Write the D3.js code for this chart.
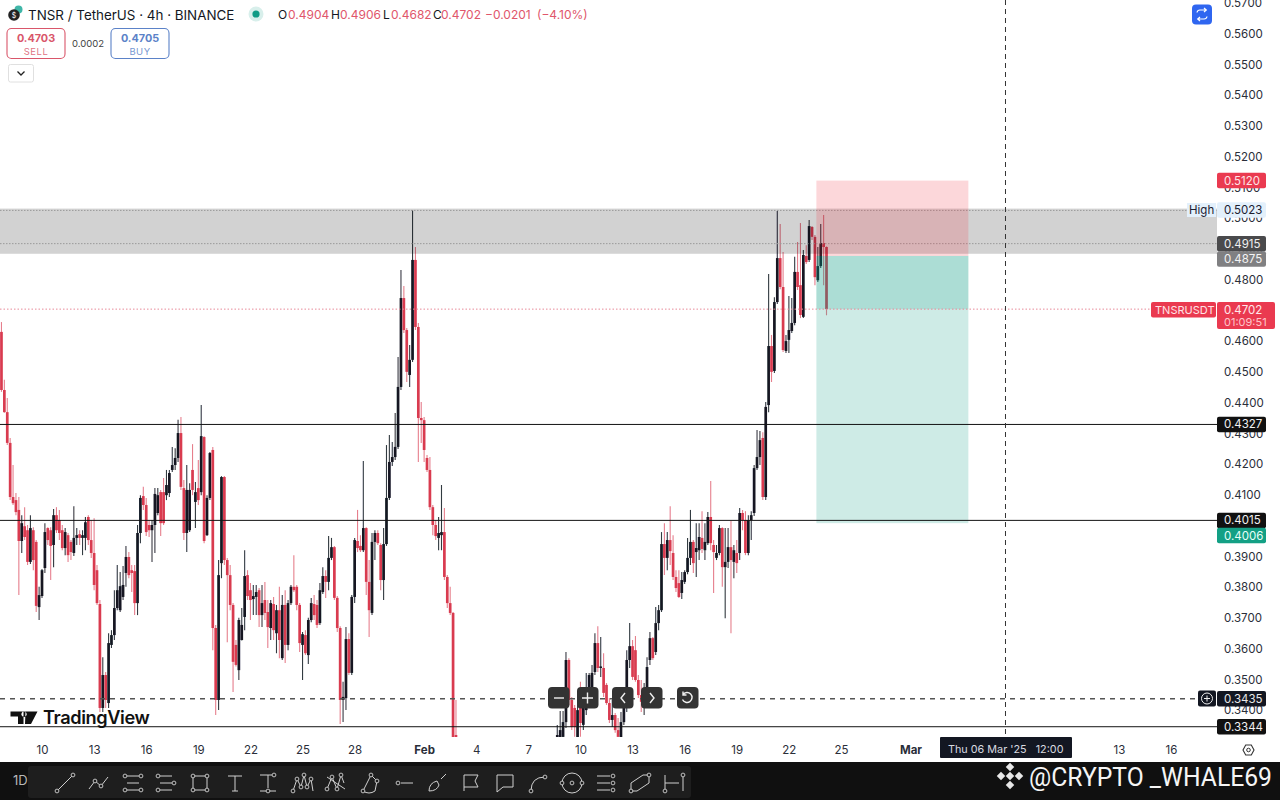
<!DOCTYPE html>
<html><head><meta charset="utf-8">
<script src="https://cdn.jsdelivr.net/npm/d3@7/dist/d3.min.js"></script>
<style>
html,body{margin:0;padding:0;background:#fff;overflow:hidden}
svg{display:block}
text{font-family:Inter,Roboto,"Noto Sans",sans-serif}
</style></head><body>
<svg id="c" width="1280" height="800"></svg>
<script>
// Prices in ticks of 0.0001. Each row: high, open, close, low (4h candles)
const priceUnit = 0.0001;
const leftStart = new Date(Date.UTC(2025,0,7,12)); // first visible candle
const leftCandles = [
[4849,4829,4634,4618],[4660,4628,4439,4433],[4472,4439,4367,4365],[4413,4367,4267,4260],[4283,4267,4091,4081],
[4195,4091,4071,4065],[4104,4081,4042,4032],[4091,4049,3948,3772],[4032,3948,4006,3909],[4058,3996,3961,3951],
[4000,3983,3880,3870],[4032,3880,3990,3873],[3993,3983,3886,3853],[3951,3945,3737,3717],[3799,3733,3772,3691],
[3857,3769,3853,3763],[4006,3860,3977,3844],[3993,3990,3951,3935],[3993,3983,3932,3821],[4052,3935,4032,3863],
[4058,4032,3983,3974],[4049,4016,3974,3951],[4000,3983,3925,3918],[3990,3925,3977,3902],[3974,3967,3902,3880],
[3951,3945,3912,3886],[4061,3909,3958,3899],[3990,3958,3967,3935],[3983,3970,3958,3935],[3983,3958,3967,3902],
[4026,3958,4009,3918],[4032,4026,3951,3935],[4016,3951,3909,3893],[4022,3909,3805,3788],[3870,3853,3746,3740],
[3756,3743,3405,3392],[3570,3405,3512,3392],[3522,3512,3431,3405],[3648,3421,3616,3405],[3658,3610,3642,3600],
[3788,3642,3730,3626],[3870,3730,3788,3723],[3847,3723,3801,3717],[3867,3766,3805,3756],[3932,3844,3896,3799],
[3912,3896,3837,3827],[3870,3853,3844,3782],[3870,3850,3746,3707],[4000,3746,3974,3707],[4097,3974,4088,3941],
[4124,4094,4065,4049],[4088,4065,3977,3964],[4016,4000,3983,3961],[4016,3983,4000,3880],[4120,4000,4101,3909],
[4120,4039,4097,4032],[4114,4107,4006,3964],[4153,4107,4006,4000],[4179,4097,4130,4081],[4179,4104,4169,4091],
[4254,4179,4195,4172],[4250,4195,4218,4179],[4342,4218,4299,4205],[4351,4299,4124,4114],[4146,4120,3974,3951],
[4195,3974,4114,3912],[4136,3983,4114,3977],[4263,4179,4114,4097],[4140,4075,4107,3990],[4211,4120,4081,4065],
[4390,4107,4289,4097],[4289,4286,3948,3941],[4097,3967,4088,3964],[4237,4088,4234,4081],[4254,4244,3665,3593],
[3675,3665,3431,3382],[3886,3431,3837,3398],[4159,3876,4156,3827],[4159,4156,3886,3870],[3893,3886,3837,3619],
[3870,3837,3740,3723],[3746,3740,3555,3457],[3626,3610,3545,3540],[3698,3528,3691,3496],[3730,3626,3675,3624],
[3918,3701,3834,3658],[3853,3837,3769,3756],[3811,3788,3756,3691],[3805,3759,3769,3707],[3805,3766,3782,3707],
[3795,3788,3707,3668],[3805,3707,3746,3668],[3815,3756,3714,3691],[3756,3717,3668,3600],[3756,3665,3746,3626],
[3766,3743,3658,3626],[3740,3648,3723,3583],[3799,3723,3626,3567],[3772,3567,3740,3561],[3788,3740,3610,3551],
[3756,3610,3746,3593],[3805,3746,3799,3740],[3902,3799,3788,3782],[3805,3799,3740,3723],[3746,3740,3616,3587],
[3652,3610,3645,3496],[3658,3642,3583,3577],[3698,3577,3691,3548],[3763,3691,3746,3684],[3772,3743,3707,3691],
[3756,3740,3675,3665],[3811,3681,3788,3675],[3863,3782,3834,3776],[3853,3834,3815,3763],[3964,3815,3893,3788],
[3958,3893,3928,3886],[3932,3928,3763,3756],[3769,3763,3665,3652],[3671,3665,3431,3353],[3490,3431,3441,3359],
[3668,3437,3629,3398],[3648,3629,3519,3512],[3772,3519,3766,3512],[3958,3766,3951,3746],[4049,3948,3925,3912],
[3967,3932,3918,3912],[4208,3918,3990,3912],[3993,3990,3815,3772],[3886,3815,3723,3636],[3974,3714,3945,3707],
[3983,3945,3974,3886],[3983,3974,3941,3935],[3941,3935,3821,3788],[3990,3821,3938,3756],[4260,3938,4088,3932],
[4293,4088,4205,4081],[4270,4205,4221,4192],[4364,4221,4254,4211],[4546,4254,4449,4247],[4829,4449,4738,4439],
[4777,4738,4634,4624],[4641,4634,4498,4465],[4585,4488,4537,4449],[5023,4537,4862,4530],[4904,4862,4644,4634],
[4657,4644,4348,4205],[4400,4348,4341,4267],[4351,4341,4244,4205],[4228,4218,4179,4172],[4221,4179,4058,4049],
[4065,4058,4000,3967],[4016,4000,3964,3951],[4026,3958,3974,3918],[4130,3967,3977,3918],[4055,3977,3831,3821],
[3837,3831,3746,3730],[3799,3746,3714,3707],[3717,3714,3301,3285],[3431,3317,3285,3236]
];
const rightStart = new Date(Date.UTC(2025,1,8,16));
const rightCandles = [
[3350,3301,3317,3295],[3395,3301,3333,3295],[3395,3311,3359,3295],[3587,3359,3561,3340],[3567,3561,3431,3415],
[3441,3431,3343,3333],[3415,3405,3343,3311],[3431,3301,3398,3295],[3490,3405,3356,3311],[3463,3350,3405,3333],
[3519,3398,3463,3382],[3519,3463,3512,3447],[3545,3473,3519,3463],[3648,3522,3616,3512],[3671,3616,3535,3522],
[3636,3535,3540,3506],[3583,3535,3454,3441],[3486,3480,3421,3415],[3437,3421,3366,3356],[3431,3366,3382,3343],
[3389,3382,3333,3324],[3372,3333,3311,3295],[3392,3301,3359,3291],[3441,3359,3405,3350],[3593,3405,3561,3392],
[3681,3561,3606,3535],[3626,3606,3506,3496],[3639,3593,3496,3490],[3512,3496,3447,3437],[3496,3447,3425,3392],
[3486,3405,3447,3382],[3570,3441,3538,3431],[3652,3561,3632,3545],[3636,3632,3567,3561],[3733,3587,3681,3577],
[3740,3681,3723,3658],[3977,3723,3938,3717],[4006,3938,3893,3837],[3977,3893,3951,3853],[4061,3951,3915,3870],
[3967,3909,3831,3821],[3853,3831,3795,3782],[3853,3811,3766,3763],[3847,3779,3821,3759],[3853,3815,3847,3808],
[3958,3847,3893,3840],[4049,3893,3945,3870],[3951,3945,3876,3844],[4006,3912,3925,3831],[4006,3918,3961,3886],
[4045,3958,3922,3909],[4006,3918,3945,3886],[4042,3941,4026,3935],[4143,4026,3941,3918],[3951,3935,3912,3779],
[3935,3893,3909,3886],[4000,3909,3990,3902],[3993,3990,3863,3799],[3990,3863,3880,3697],[3990,3880,3928,3860],
[4013,3928,3886,3648],[3935,3880,3918,3827],[3951,3909,3876,3844],[4055,3909,4039,3886],[4049,4039,4016,3983],
[4045,4016,3909,3902],[4032,3909,4016,3902],[4045,4016,4032,3951],[4195,4039,4185,4029],[4309,4185,4221,4179],
[4306,4221,4276,4195],[4302,4283,4091,4081],[4400,4091,4384,4081],[4816,4390,4582,4367],[4618,4582,4498,4465],
[4741,4501,4725,4494],[5021,4725,4868,4719],[4979,4868,4774,4767],[4888,4774,4569,4563],[4618,4566,4598,4559],
[4745,4602,4634,4559],[4738,4631,4657,4624],[4872,4657,4823,4650],[4920,4823,4774,4764],[4982,4780,4683,4673],
[4894,4677,4878,4673],[4910,4875,4855,4849],[4992,4862,4972,4855],[4972,4969,4937,4927],[4943,4937,4806,4780],
[4904,4796,4842,4790],[4979,4842,4917,4836],[5008,4917,4904,4780],[4906,4904,4702,4682]
];
const priceTicks = [0.57,0.56,0.55,0.54,0.53,0.52,0.51,0.50,0.49,0.48,0.47,0.46,0.45,0.44,0.43,0.42,0.41,0.40,0.39,0.38,0.37,0.36,0.35,0.34];
const dateTicks = [["2025-01-10","10"],["2025-01-13","13"],["2025-01-16","16"],["2025-01-19","19"],["2025-01-22","22"],["2025-01-25","25"],["2025-01-28","28"],["2025-02-01","Feb"],["2025-02-04","4"],["2025-02-07","7"],["2025-02-10","10"],["2025-02-13","13"],["2025-02-16","16"],["2025-02-19","19"],["2025-02-22","22"],["2025-02-25","25"],["2025-03-01","Mar"],["2025-03-13","13"],["2025-03-16","16"]];
const solidLevels = [0.4327,0.4015,0.3344];
const dashedLevel = 0.3435;
const highLevel = 0.5023, midLevel = 0.4915, zoneTop = 0.5029, zoneBottom = 0.4882;
const lastPrice = 0.4702, stopPrice = 0.5120, entryPrice = 0.4875, targetPrice = 0.4006;
const positionStart = "2025-02-23T14:00Z", positionEnd = "2025-03-04T08:00Z";
const crosshairDate = "2025-03-06T12:00Z";

const svg = d3.select("#c");
const paneR = 1217, paneB = 737;
const x = d3.scaleUtc().domain([new Date("2025-01-10T00:00Z"), new Date("2025-03-16T00:00Z")]).range([42,1171]);
const y = d3.scaleLinear().domain([0.56,0.35]).range([33,678.75]);
const ink = "#131722", red = "#d93a50", softRed = "#f23645";

const defs = svg.append("defs");
defs.append("clipPath").attr("id","pane").append("rect").attr("x",0).attr("y",0).attr("width",paneR).attr("height",paneB);
defs.append("filter").attr("id","soft").attr("x","-2%").attr("y","-2%").attr("width","104%").attr("height","104%")
  .append("feGaussianBlur").attr("stdDeviation",0.4);

const pane = svg.append("g").attr("clip-path","url(#pane)");

// candles
const H4 = 4*3600*1000;
const toCandles = (rows,start) => rows.map((r,i)=>({t:new Date(+start+i*H4),h:r[0]*priceUnit,o:r[1]*priceUnit,c:r[2]*priceUnit,l:r[3]*priceUnit}));
const candles = toCandles(leftCandles,leftStart).concat(toCandles(rightCandles,rightStart));
const cg = pane.append("g").attr("filter","url(#soft)");
const color = d => d.c>=d.o ? ink : red;
cg.selectAll("line.w").data(candles).join("line").attr("class","w")
  .attr("x1",d=>x(d.t)).attr("x2",d=>x(d.t)).attr("y1",d=>y(d.h)).attr("y2",d=>y(d.l))
  .attr("stroke",color).attr("stroke-width",1.1).attr("stroke-opacity",d=>d.c>=d.o?0.85:0.65);
cg.selectAll("rect.b").data(candles).join("rect").attr("class","b")
  .attr("x",d=>x(d.t)-1.35).attr("width",2.7)
  .attr("y",d=>Math.min(y(d.o),y(d.c))).attr("height",d=>Math.max(1,Math.abs(y(d.o)-y(d.c))))
  .attr("fill",color);

// grey zone (drawing, above series)
pane.append("rect").attr("x",0).attr("width",paneR).attr("y",y(zoneTop)).attr("height",y(zoneBottom)-y(zoneTop)).attr("fill","#000").attr("fill-opacity",0.175);
[highLevel,midLevel].forEach(v=>pane.append("line").attr("x1",0).attr("x2",paneR).attr("y1",y(v)).attr("y2",y(v)).attr("stroke","#9a9a9a").attr("stroke-dasharray","1.5 1.5"));

// position tool
const px0 = x(new Date(positionStart)), px1 = x(new Date(positionEnd));
pane.append("rect").attr("x",px0).attr("width",px1-px0).attr("y",y(stopPrice)).attr("height",y(entryPrice)-y(stopPrice)).attr("fill",softRed).attr("fill-opacity",0.2);
pane.append("rect").attr("x",px0).attr("width",px1-px0).attr("y",y(entryPrice)).attr("height",y(targetPrice)-y(entryPrice)).attr("fill","#089981").attr("fill-opacity",0.2);
pane.append("rect").attr("x",px0).attr("width",px1-px0).attr("y",y(entryPrice)).attr("height",y(lastPrice)-y(entryPrice)).attr("fill","#089981").attr("fill-opacity",0.17);

// level lines
pane.selectAll("line.lv").data(solidLevels).join("line").attr("class","lv").attr("x1",0).attr("x2",paneR)
  .attr("y1",d=>y(d)).attr("y2",d=>y(d)).attr("stroke","#131313").attr("stroke-width",1);
pane.append("line").attr("x1",0).attr("x2",paneR).attr("y1",y(dashedLevel)).attr("y2",y(dashedLevel)).attr("stroke","#555").attr("stroke-width",1.3).attr("stroke-dasharray","5 5");
pane.append("line").attr("x1",0).attr("x2",paneR).attr("y1",y(lastPrice)).attr("y2",y(lastPrice)).attr("stroke","#e88a98").attr("stroke-dasharray","1.5 2");
pane.append("line").attr("x1",x(new Date(crosshairDate))-0.5).attr("x2",x(new Date(crosshairDate))-0.5).attr("y1",0).attr("y2",paneB+5).attr("stroke","#333").attr("stroke-dasharray","5 4");

// price axis
const axisY = svg.append("g").attr("transform",`translate(${paneR},0.8)`)
  .call(d3.axisRight(y).tickValues(priceTicks).tickFormat(d3.format(".4f")).tickSize(0).tickPadding(7));
axisY.select(".domain").remove();
axisY.selectAll("text").attr("font-size",11.5).attr("fill","#2a2e39").style("font-family","Inter,Roboto,sans-serif");

// time axis
const tickMap = new Map(dateTicks.map(d=>[+new Date(d[0]+"T00:00Z"),d[1]]));
const axisX = svg.append("g").attr("transform",`translate(0,${paneB+0.8})`)
  .call(d3.axisBottom(x).tickValues([...tickMap.keys()].map(k=>new Date(k))).tickFormat(d=>tickMap.get(+d)).tickSize(0).tickPadding(8));
axisX.select(".domain").remove();
axisX.selectAll("text").attr("font-size",11.5).attr("fill","#2a2e39").style("font-family","Inter,Roboto,sans-serif")
  .attr("font-weight",function(){return /[A-Za-z]/.test(this.textContent)?700:400});

// price tags
const tag = (v,label,bg,fg,opts={})=>{
  const yy=opts.cy!==undefined?opts.cy:y(v), hh=opts.h||15.5, xx=opts.x||paneR, w=opts.w||49;
  svg.append("rect").attr("x",xx).attr("y",yy-hh/2).attr("width",w).attr("height",hh).attr("rx",2).attr("fill",bg);
  svg.append("text").attr("x",xx+7).attr("y",yy+4).attr("font-size",11.5).attr("fill",fg).text(label);
};
tag(stopPrice,"0.5120","#ea3a50","#ffe3e6");
tag(highLevel,"0.5023","#e3f0fb","#1c2030",{cy:210});
svg.append("rect").attr("x",1187).attr("y",203).attr("width",29).attr("height",14).attr("fill","#e3f0fb");
svg.append("text").attr("x",1189).attr("y",214).attr("font-size",11.5).attr("fill","#1c2030").text("High");
tag(midLevel,"0.4915","#4a4a4c","#f0f0f0");
tag(entryPrice,"0.4875","#808082","#f4f4f4",{cy:259});
tag(0.4327,"0.4327","#111","#f2f2f2");
tag(0.4015,"0.4015","#111","#f2f2f2");
tag(targetPrice,"0.4006","#13a085","#e6fff8",{cy:535.5});
tag(dashedLevel,"0.3435",ink,"#e8e8e8");
tag(0.3344,"0.3344","#111","#f2f2f2");
// last price tag
svg.append("rect").attr("x",paneR).attr("y",302).attr("width",58).attr("height",27).attr("rx",2).attr("fill","#ea3a50");
svg.append("text").attr("x",paneR+7).attr("y",314).attr("font-size",11.5).attr("fill","#ffe9eb").text("0.4702");
svg.append("text").attr("x",paneR+7).attr("y",325.5).attr("font-size",11).attr("fill","#ffc4cb").text("01:09:51");
svg.append("rect").attr("x",1151).attr("y",302).attr("width",65).attr("height",15.5).attr("rx",2).attr("fill","#ea3a50");
svg.append("text").attr("x",1155).attr("y",314).attr("font-size",11).attr("fill","#ffe3e6").text("TNSRUSDT");
// plus button
svg.append("rect").attr("x",1198).attr("y",690.5).attr("width",18).attr("height",16).attr("rx",2).attr("fill",ink);
svg.append("circle").attr("cx",1207).attr("cy",698.5).attr("r",5.5).attr("fill","none").attr("stroke","#eee");
svg.append("path").attr("d","M1204 698.5h6M1207 695.5v6").attr("stroke","#eee").attr("fill","none");

// crosshair date tag
svg.append("rect").attr("x",940).attr("y",737).attr("width",132).attr("height",21).attr("rx",1).attr("fill",ink);
svg.append("text").attr("x",948).attr("y",752.5).attr("font-size",10.8).attr("fill","#d8dae0").attr("xml:space","preserve").style("white-space","pre").text("Thu 06 Mar '25   12:00");

// settings icon
svg.append("path").attr("d","M1243 750l2.7-5h5.6l2.7 5-2.7 5h-5.6z").attr("fill","none").attr("stroke","#333").attr("stroke-width",1.1);
svg.append("circle").attr("cx",1248.5).attr("cy",750).attr("r",1.8).attr("fill","none").attr("stroke","#333");

// header
const logo = svg.append("g");
logo.append("circle").attr("cx",18.5).attr("cy",9.5).attr("r",4).attr("fill","#3fb6a8");
logo.append("circle").attr("cx",14).attr("cy",15).attr("r",5.8).attr("fill","#222");
logo.append("text").attr("x",14).attr("y",17.5).attr("text-anchor","middle").attr("font-size",7).attr("fill","#fff").text("$");
svg.append("text").attr("x",28).attr("y",20).attr("font-size",13.4).attr("fill",ink).text("TNSR / TetherUS · 4h · BINANCE");
svg.append("circle").attr("cx",256).attr("cy",14).attr("r",7.5).attr("fill","#d8efeb");
svg.append("circle").attr("cx",256).attr("cy",14).attr("r",3.6).attr("fill","#0f9b85");
const ohlc = [[278,"O",ink],[288,"0.4904","#e0566b"],[331,"H",ink],[340,"0.4906","#e0566b"],[383,"L",ink],[391,"0.4682","#e0566b"],[433,"C",ink],[441,"0.4702","#e0566b"],[485,"−0.0201","#e0566b"],[537,"(−4.10%)","#e0566b"]];
svg.append("g").selectAll("text").data(ohlc).join("text").attr("x",d=>d[0]).attr("y",19).attr("font-size",12).attr("fill",d=>d[2]).text(d=>d[1]);
const box = (bx,w,col,val,lab,cx)=>{
  svg.append("rect").attr("x",bx).attr("y",28.5).attr("width",w).attr("height",30).attr("rx",4.5).attr("fill","#fff").attr("stroke",col).attr("stroke-width",1.1);
  svg.append("text").attr("x",cx).attr("y",42).attr("text-anchor","middle").attr("font-size",10.8).attr("font-weight",700).attr("fill",col).text(val);
  svg.append("text").attr("x",cx).attr("y",54.5).attr("text-anchor","middle").attr("font-size",9.5).attr("letter-spacing",0.5).attr("fill",col).attr("fill-opacity",0.85).text(lab);
};
box(7,58,"#d9566a","0.4703","SELL",36);
box(111,58,"#5b82c8","0.4705","BUY",140);
svg.append("text").attr("x",88).attr("y",47).attr("text-anchor","middle").attr("font-size",9.5).attr("fill","#444").text("0.0002");
svg.append("rect").attr("x",8.5).attr("y",64.5).attr("width",25).attr("height",17.5).attr("rx",2).attr("fill","#fff").attr("stroke","#e0e0e0");
svg.append("path").attr("d","M17.5 71.5l3.5 3.5 3.5-3.5").attr("fill","none").attr("stroke","#222").attr("stroke-width",1.3);
// sync button
svg.append("rect").attr("x",1192).attr("y",4.5).attr("width",20).attr("height",20).attr("rx",4).attr("fill","#2f66f0");
svg.append("path").attr("d","M1197 12.5a3 3 0 0 1 3-2.5h6M1204 8l2.3 2-2.3 2M1207 16.5a3 3 0 0 1-3 2.5h-6M1200 21l-2.3-2 2.3-2").attr("fill","none").attr("stroke","#fff").attr("stroke-width",1.2);

// TradingView mark
svg.append("path").attr("d","M10.5 711.5h13v12.5h-5.5v-7.5h-7.5zM25.5 711.5h12l-6.5 12.5h-6zM24 711.5a2.7 2.7 0 1 0 .1 0z").attr("fill","#111");
svg.append("text").attr("x",43).attr("y",724).attr("font-size",18.2).attr("font-weight",600).attr("letter-spacing",-0.4).attr("fill","#111").text("TradingView");

// chart nav buttons
const navX = [548,577,612,641,677];
const navG = ["M554 698h10","M582 698h11M587.5 692.5v11","M625 693l-4 5 4 5","M650 693l4 5-4 5","M683 694.5a5 5 0 1 1-.5 5M683 691.5v3.5h3.5"];
navX.forEach((nx,i)=>{
  svg.append("rect").attr("x",nx).attr("y",687).attr("width",21.5).attr("height",21.5).attr("rx",4).attr("fill","#333");
  svg.append("path").attr("d",navG[i]).attr("fill","none").attr("stroke","#f0f0f0").attr("stroke-width",1.4);
});

// bottom toolbar
svg.append("rect").attr("x",0).attr("y",762).attr("width",1280).attr("height",38).attr("fill","#101010");
svg.append("rect").attr("x",28).attr("y",766).attr("width",663).attr("height",32).attr("rx",3).attr("fill","#1e1e1e");
svg.append("text").attr("x",13).attr("y",785).attr("font-size",13).attr("fill","#b8b8b8").text("1D");
const iconX = [65,99,133,166,200,235,268,303,336,370,404,437,471,505,539,572,606,640,674];
const iconP = [
 "M-8 8L8-8","M-10 6l6-8 6 5 7-9","M-6-7h12M-6 0h12M-6 7h12","M-6-7h12M-6 0h12M-6 7h12","M-7-7h14v14h-14z",
 "M-7-7h14M0-7v15M-3 8h6","M-8-8h12M0-8v13M-8 8h16","M-10 8l4-12 4 8 3-12 3 12 4-8 2 12","M-9 6l5-12 5 12 4-14 3 8M-9-6l18 12","M-7 8l8-16 6 6-2 10q-6 4-12 0z",
 "M-3 0h12","M-8 8q0-8 8-10l2 4q-2 6-10 6zM4-4l5-5","M-7 8v-16h14l-3 6 3 6h-14","M-8-8h16v12h-10l-6 5z","M-8 8q0-14 14-14","M-10 0a10 10 0 1 0 20 0a10 10 0 1 0-20 0",
 "M-9-7h13M-9 0h13M-9 7h13","M-9 8v-8l12-8h6v8l-12 8z","M-9-8v16M9-8v16M-9 0h14"
];
const iconDots = [
 [[-8,8],[8,-8]],[[-4,-2],[2,3]],[[-8,-7],[8,-7],[-8,7],[8,7]],[[-8,-7],[8,0],[-8,7]],[[-7,-7],[7,-7],[-7,7],[7,7]],
 [],[[6,-8],[0,8]],[[-10,8],[-6,-4],[-2,4],[1,-8],[4,4],[8,-4]],[[-9,6],[-4,-6],[1,6],[5,-8]],[[1,-8],[7,-2],[-7,8]],
 [[-6,0]],[],[],[],[[-8,8],[6,-6]],[[0,0],[-10,0],[10,0]],[[7,-7],[7,0],[7,7]],[[-9,8],[9,-8]],[[9,-8],[-9,8]]
];
const ig = svg.append("g");
iconX.forEach((ix,i)=>{
  const g = ig.append("g").attr("transform",`translate(${ix},783)`);
  g.append("path").attr("d",iconP[i]).attr("fill","none").attr("stroke","#cfcfcf").attr("stroke-width",1);
  iconDots[i].forEach(p=>g.append("circle").attr("cx",p[0]).attr("cy",p[1]).attr("r",1.9).attr("fill","#1e1e1e").attr("stroke","#cfcfcf").attr("stroke-width",0.9));
});
// watermark
const wm = svg.append("g").attr("transform","translate(1010,776)").attr("fill","#e8e8e8");
[[0,0],[-9,0],[9,0],[0,-9],[0,9]].forEach(p=>wm.append("rect").attr("x",p[0]-3).attr("y",p[1]-3).attr("width",6).attr("height",6).attr("transform",`rotate(45 ${p[0]} ${p[1]})`));
svg.append("text").attr("x",1029).attr("y",786).attr("font-size",25).attr("textLength",243).attr("lengthAdjust","spacingAndGlyphs").attr("fill","#f5f5f5").style("font-family","Roboto,Inter,sans-serif").text("@CRYPTO _WHALE69");
</script>
</body></html>
